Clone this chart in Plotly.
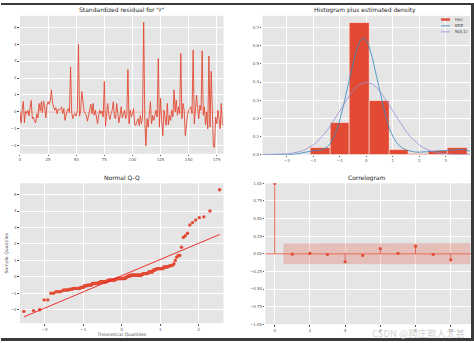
import numpy as np
import plotly.graph_objects as go
from statistics import NormalDist

# Standardized residuals of the fitted model, in time order
resid = [
    0.02, -0.65, 0.15, 0.62, -0.65, 0.05, -0.1, 0.1, -0.25, 0.1,
    0.68, -0.4, -0.3, -0.55, -0.65, -0.1, -0.35, 0.5, 0.05, 0.6,
    -0.05, 0.65, 0.3, -0.35, 0.4, 0.6, 0.45, 0.7, 1.3, 0.5,
    0.2, 0.1, 0.25, -0.1, 0.15, 0.1, 0.2, 0.3, -0.1, 0.2,
    -0.5, -0.1, 0.1, 0.2, -0.05, 2.65, -0.05, -0.4, -0.15, -0.1,
    -0.25, 0.1, 4.0, -0.25, 0.1, 1.2, 0.4, 0.05, -0.1, -0.2,
    -0.55, -0.15, 0.1, 0.45, -0.1, 0.5, -0.2, 0.1, -0.3, -0.7,
    -0.2, 0.1, -0.1, 0.05, -0.3, 1.8, -0.85, -0.1, 0.5, -0.2,
    -0.45, -0.1, 0.1, 0.6, -0.3, -0.4, 0.5, -0.1, -0.65, -0.2,
    0.3, -0.35, -0.1, 0.1, -0.4, -0.2, 2.5, -0.7, 0.1, -0.3,
    -0.15, 0.2, -0.75, -0.8, -0.55, -0.4, -0.8, -0.2, -0.7, -0.3,
    5.3, -0.5, -2.0, -0.4, -0.9, -0.3, 0.6, -0.7, -0.2, -0.5,
    -0.1, 0.1, -0.3, 3.15, -0.9, 0.8, -0.5, -1.4, 0.1, -0.3,
    -0.8, 0.5, -0.75, -0.2, -0.5, 0.1, -0.3, 1.3, 0.0, 0.7,
    -0.2, 0.3, -0.1, 3.45, -0.4, 0.5, 0.1, -1.4, -0.55, -0.2,
    0.1, 0.2, 0.3, -0.1, 3.65, -0.7, 0.2, 1.0, 0.2, -0.4,
    0.4, 0.1, 3.6, -0.2, 0.3, -0.75, 0.0, -1.0, 3.3, -0.9,
    2.4, -0.5, -2.05, -2.1, -0.3, -0.7, 0.1, -0.4, -1.0, 0.5,
    -0.7, -0.8,
]

# Sample autocorrelation of the residuals, lags 0..10
acf_lags = list(range(11))
acf_vals = [1.0, -0.005, 0.005, -0.01, -0.113, -0.024, 0.075, 0.005, 0.108, -0.01, -0.085]

# Legend entries of the histogram panel
legend_labels = ["Hist", "KDE", "N(0,1)"]

C_RED = "#E24A33"
C_BLUE = "#348ABD"
C_PURPLE = "#988ED5"
GRID = "#FFFFFF"
TICK_FONT = dict(family="DejaVu Sans", size=4, color="#555555")

W, H = 474, 343

r = np.asarray(resid, dtype=float)
n = r.size
t = np.arange(n)


def px_x(a, b):
    return [a / W, b / W]


def px_y(top, bottom):
    return [1 - bottom / H, 1 - top / H]


def padded(lo, hi, frac=0.05):
    span = hi - lo
    return [lo - frac * span, hi + frac * span]


fig = go.Figure()

# --- Standardized residual time series -------------------------------------
fig.add_trace(go.Scatter(x=t, y=r, mode="lines", line=dict(color=C_RED, width=0.9),
                         xaxis="x", yaxis="y", hoverinfo="skip"))
fig.add_trace(go.Scatter(x=[t[0], t[-1]], y=[0, 0], mode="lines",
                         line=dict(color="rgba(226,74,51,0.5)", width=0.8),
                         xaxis="x", yaxis="y", hoverinfo="skip"))

# --- Histogram + KDE + N(0,1) ----------------------------------------------
dens, edges = np.histogram(r, bins=10, density=True)
centers = 0.5 * (edges[:-1] + edges[1:])
widths = np.diff(edges)
fig.add_trace(go.Bar(x=centers, y=dens, width=widths,
                     marker=dict(color=C_RED, line=dict(color="white", width=0.5)),
                     xaxis="x2", yaxis="y2", hoverinfo="skip"))

xlim_h = (-1.96 * 2, 1.96 * 2)
xs = np.linspace(xlim_h[0], xlim_h[1], 50)
bw = r.std(ddof=1) * n ** (-1 / 5)
kde = np.exp(-0.5 * ((xs[:, None] - r[None, :]) / bw) ** 2).sum(axis=1) / (n * bw * np.sqrt(2 * np.pi))
npdf = np.exp(-0.5 * xs ** 2) / np.sqrt(2 * np.pi)
fig.add_trace(go.Scatter(x=xs, y=kde, mode="lines",
                         line=dict(color=C_BLUE, width=0.8), xaxis="x2", yaxis="y2", hoverinfo="skip"))
fig.add_trace(go.Scatter(x=xs, y=npdf, mode="lines",
                         line=dict(color=C_PURPLE, width=0.8), xaxis="x2", yaxis="y2", hoverinfo="skip"))

# --- Normal Q-Q ------------------------------------------------------------
nd = NormalDist()
theo = np.array([nd.inv_cdf(i / (n + 1)) for i in range(1, n + 1)])
samp = np.sort(r)
fig.add_trace(go.Scatter(x=theo, y=samp, mode="markers",
                         marker=dict(color=C_RED, size=3.4, line=dict(width=0)),
                         xaxis="x3", yaxis="y3", hoverinfo="skip"))
line_x = np.array([theo[0], theo[-1]])
line_y = r.std() * line_x + r.mean()
fig.add_trace(go.Scatter(x=line_x, y=line_y, mode="lines", line=dict(color="#F01818", width=0.9),
                         xaxis="x3", yaxis="y3", hoverinfo="skip"))

# --- Correlogram -----------------------------------------------------------
acf = np.asarray(acf_vals)
varacf = np.ones(len(acf)) / n
varacf[0] = 0
varacf[2:] *= 1 + 2 * np.cumsum(acf[1:-1] ** 2)
conf = 1.96 * np.sqrt(varacf)
band_x = np.array(acf_lags[1:], dtype=float)
band_x[0] -= 0.5
band_x[-1] += 1.1
band_hi = conf[1:]
fig.add_trace(go.Scatter(x=band_x, y=band_hi, mode="lines", line=dict(width=0),
                         xaxis="x4", yaxis="y4", hoverinfo="skip"))
fig.add_trace(go.Scatter(x=band_x, y=-band_hi, mode="lines", line=dict(width=0),
                         fill="tonexty", fillcolor="rgba(226,74,51,0.25)",
                         xaxis="x4", yaxis="y4", hoverinfo="skip"))
fig.add_trace(go.Scatter(x=[-1, 12], y=[0, 0], mode="lines", line=dict(color=C_RED, width=0.8),
                         xaxis="x4", yaxis="y4", hoverinfo="skip"))
stem_x, stem_y = [], []
for lag, v in zip(acf_lags, acf_vals):
    stem_x += [lag, lag, None]
    stem_y += [0, v, None]
fig.add_trace(go.Scatter(x=stem_x, y=stem_y, mode="lines", line=dict(color=C_RED, width=0.8),
                         xaxis="x4", yaxis="y4", hoverinfo="skip"))
fig.add_trace(go.Scatter(x=acf_lags, y=acf_vals, mode="markers",
                         marker=dict(color=C_RED, size=3.2, line=dict(width=0)),
                         xaxis="x4", yaxis="y4", hoverinfo="skip"))


def ax(domain, rng, tickvals, anchor, fmt=None, title=None):
    d = dict(domain=domain, range=rng, tickvals=tickvals, anchor=anchor,
             showgrid=True, gridcolor=GRID, gridwidth=0.8, zeroline=False,
             showline=False, ticks="outside", ticklen=1.5, tickwidth=0.6, tickcolor="#555555",
             tickfont=TICK_FONT)
    if fmt:
        d["tickformat"] = fmt
    if title:
        d["title"] = dict(text=title, font=dict(family="DejaVu Sans", size=4.6, color="#555555"),
                          standoff=2)
    return d


fig.update_layout(
    width=W, height=H,
    margin=dict(l=0, r=0, t=0, b=0),
    paper_bgcolor="white",
    plot_bgcolor="#E5E5E5",
    font=dict(family="DejaVu Sans"),
    bargap=0,
    showlegend=False,
    xaxis=ax(px_x(19, 223), [t[0], t[-1]], list(range(0, 176, 25)), "y"),
    yaxis=ax(px_y(13, 153), padded(r.min(), r.max()), list(range(-2, 6)), "x"),
    xaxis2=ax(px_x(262, 470), list(xlim_h), list(range(-3, 4)), "y2"),
    yaxis2=ax(px_y(13, 154), [0, dens.max() * 1.05], [i / 10 for i in range(8)], "x2", fmt=".1f"),
    xaxis3=ax(px_x(19, 223), padded(theo[0], theo[-1], 0.02), list(range(-2, 3)), "y3",
              title="Theoretical Quantiles"),
    yaxis3=ax(px_y(183, 325), padded(min(samp.min(), line_y.min()), max(samp.max(), line_y.max())),
              list(range(-2, 6)), "x3", title="Sample Quantiles"),
    xaxis4=ax(px_x(265, 471), [-0.525, 11.15], list(range(0, 11, 2)), "y4"),
    yaxis4=ax(px_y(183, 326), [-1, 1], [i / 4 for i in range(-4, 5)], "x4", fmt=".2f"),
)

titles = [
    ("Standardized residual for \"r\"", 121, 6.5),
    ("Histogram plus estimated density", 365, 7),
    ("Normal Q-Q", 121, 177.5),
    ("Correlogram", 367, 178),
]
for text, cx, cy in titles:
    fig.add_annotation(text=text, x=cx / W, y=1 - cy / H, xref="paper", yref="paper",
                       showarrow=False, xanchor="center", yanchor="middle",
                       font=dict(family="DejaVu Sans", size=6, color="#222222"))

# compact legend in the upper right of the histogram panel
legend_rows = [16.8, 23.2, 29.3]
for label, row, color in zip(legend_labels, legend_rows, [C_RED, C_BLUE, C_PURPLE]):
    yy = 1 - row / H
    if label == "Hist":
        fig.add_shape(type="rect", xref="paper", yref="paper",
                      x0=441 / W, x1=450 / W, y0=yy - 1.2 / H, y1=yy + 1.2 / H,
                      fillcolor=color, line=dict(width=0))
    else:
        fig.add_shape(type="line", xref="paper", yref="paper",
                      x0=441 / W, x1=450 / W, y0=yy, y1=yy,
                      line=dict(color=color, width=0.8))
    fig.add_annotation(text=label, x=453 / W, y=yy, xref="paper", yref="paper",
                       showarrow=False, xanchor="left", yanchor="middle",
                       font=dict(family="DejaVu Sans", size=4, color="#333333"))

# watermark across the lower right corner
fig.add_annotation(text="CSDN @狗庄欺人太甚", x=467 / W, y=1 - 334.5 / H, xref="paper", yref="paper",
                   showarrow=False, xanchor="right", yanchor="middle",
                   font=dict(family="Noto Sans CJK SC", size=9.5, color="rgba(205,205,205,0.95)"))

# dark window frame along the top, right and bottom edges
for x0, y0, x1, y1 in [(0, 0, W, 2), (471, 0, W, H), (0, 340, W, H)]:
    fig.add_shape(type="rect", xref="paper", yref="paper",
                  x0=x0 / W, x1=x1 / W, y0=1 - y1 / H, y1=1 - y0 / H,
                  fillcolor="#3a3a3a", line=dict(width=0), layer="above")

fig.write_html("out.html")
